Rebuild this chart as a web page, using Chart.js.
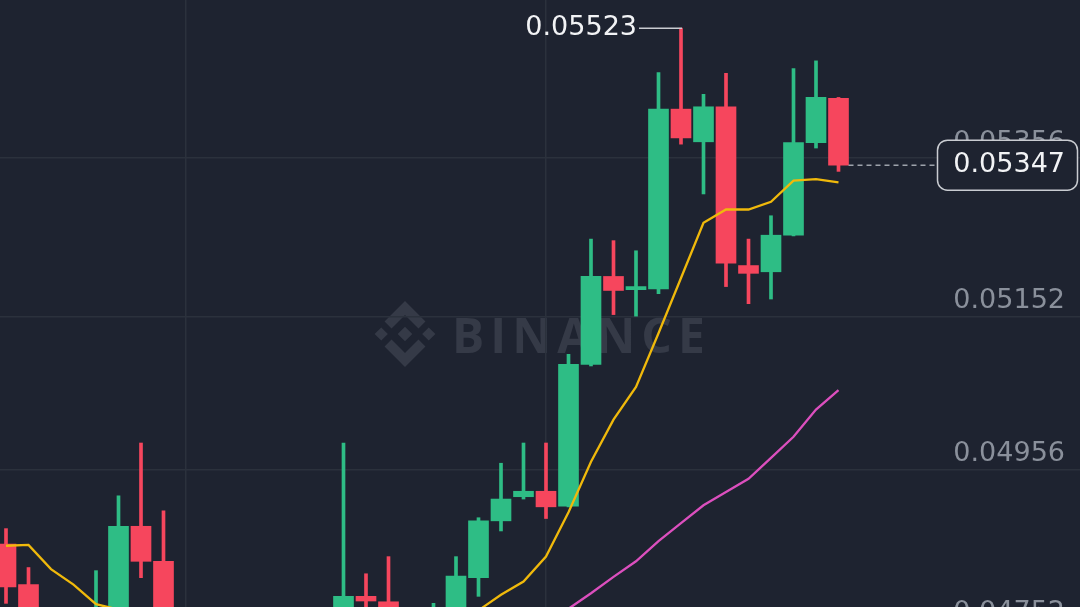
<!DOCTYPE html>
<html>
<head>
<meta charset="utf-8">
<script src="https://cdn.jsdelivr.net/npm/chart.js@4.4.1/dist/chart.umd.min.js"></script>
<style>
html,body{margin:0;padding:0;background:#1e2330;overflow:hidden;width:1080px;height:607px;}
canvas{display:block;}
</style>
</head>
<body>
<canvas id="c" width="1080" height="640"></canvas>
<script>
// ---- data ----
const candles = [0,1,2,3,4,5,6,7,8,9,10,11,12,13,14,15,16,17,18,19,20,21,22,23,24,25,26,27,28,29,30,31,32,33,34,35,36,37];
const open  = [0.04860,0.04808,0.04737,0.04686,0.04673,0.04711,0.04883,0.04838,0.04737,0.04711,0.04660,0.04698,0.04673,0.04705,0.04724,0.04711,0.04793,0.04786,0.04737,0.04724,0.04763,0.04817,0.04890,0.04921,0.04928,0.04909,0.05091,0.05204,0.05187,0.05188,0.05419,0.05377,0.05422,0.05218,0.05210,0.05257,0.05376,0.05433];
const high  = [0.04880,0.04830,0.04769,0.04705,0.04826,0.04922,0.04990,0.04903,0.04769,0.04737,0.04724,0.04718,0.04731,0.04750,0.04763,0.04990,0.04822,0.04844,0.04769,0.04784,0.04844,0.04894,0.04964,0.04990,0.04990,0.05104,0.05252,0.05250,0.05237,0.05466,0.05523,0.05438,0.05465,0.05252,0.05282,0.05471,0.05481,0.05434];
const low   = [0.04784,0.04724,0.04673,0.04647,0.04660,0.04698,0.04817,0.04724,0.04698,0.04660,0.04647,0.04653,0.04660,0.04686,0.04692,0.04705,0.04756,0.04724,0.04711,0.04718,0.04750,0.04793,0.04877,0.04918,0.04893,0.04908,0.05089,0.05155,0.05153,0.05182,0.05374,0.05310,0.05191,0.05169,0.05175,0.05256,0.05369,0.05339];
const close = [0.04805,0.04737,0.04686,0.04660,0.04737,0.04883,0.04838,0.04737,0.04711,0.04673,0.04698,0.04673,0.04705,0.04724,0.04711,0.04793,0.04787,0.04737,0.04724,0.04763,0.04819,0.04890,0.04918,0.04928,0.04908,0.05091,0.05204,0.05186,0.05191,0.05419,0.05382,0.05422,0.05221,0.05208,0.05257,0.05376,0.05434,0.05347];
const ma7   = [0.04858,0.04859,0.04828,0.04808,0.04783,0.04776,0.04765,0.04752,0.04737,0.04724,0.04711,0.04705,0.04701,0.04705,0.04711,0.04724,0.04737,0.04743,0.04750,0.04756,0.04763,0.04775,0.04795,0.04812,0.04844,0.04901,0.04966,0.05020,0.05062,0.05131,0.05202,0.05273,0.05290,0.05290,0.05300,0.05327,0.05329,0.05325];
const ma25  = [0.04737,0.04734,0.04731,0.04727,0.04722,0.04718,0.04715,0.04711,0.04709,0.04706,0.04704,0.04702,0.04701,0.04701,0.04702,0.04705,0.04709,0.04714,0.04719,0.04724,0.04731,0.04737,0.04743,0.04750,0.04759,0.04777,0.04797,0.04818,0.04838,0.04864,0.04887,0.04910,0.04927,0.04944,0.04971,0.04998,0.05033,0.05058];
const tickValues = [0.04752,0.04956,0.05152,0.05356];
const tickLabels = ['0.04752','0.04956','0.05152','0.05356'];
const xGridAt = [8,24];
const highLabel = '0.05523';
const lastLabel = '0.05347';

// ---- styles ----
const BG = '#1e2330', GRID = '#2b313c', GREEN = '#2ebd85', RED = '#f6465d';
const YELLOW = '#f0b90b', PINK = '#dc4fbe', LABEL = '#8a909b';
const FONT = '27px "DejaVu Sans"';

const colorOf = i => close[i] >= open[i] ? GREEN : RED;

function drawLogo(ctx, cx, cy, R) {
  const diamond = (x, y, s) => { ctx.moveTo(x, y - s); ctx.lineTo(x + s, y); ctx.lineTo(x, y + s); ctx.lineTo(x - s, y); ctx.closePath(); };
  ctx.beginPath();
  diamond(cx, cy, R * 0.22);
  diamond(cx - R * 0.72, cy, R * 0.2);
  diamond(cx + R * 0.72, cy, R * 0.2);
  const a = R * 0.62, t = R * 0.3, q = t / Math.SQRT2;
  for (const s of [-1, 1]) {
    ctx.moveTo(cx, cy + s * R);
    ctx.lineTo(cx + a, cy + s * (R - a));
    ctx.lineTo(cx + a - q, cy + s * (R - a - q));
    ctx.lineTo(cx, cy + s * (R - t * Math.SQRT2));
    ctx.lineTo(cx - a + q, cy + s * (R - a - q));
    ctx.lineTo(cx - a, cy + s * (R - a));
    ctx.closePath();
  }
  ctx.fill();
}

const decor = {
  id: 'decor',
  beforeDraw(chart) {
    const ctx = chart.ctx;
    ctx.save();
    ctx.fillStyle = BG;
    ctx.fillRect(0, 0, chart.width, chart.height);
    ctx.fillStyle = '#353a47';
    drawLogo(ctx, 405, 334, 33);
    ctx.font = 'bold 48px "Open Sans"';
    try { ctx.letterSpacing = '6px'; } catch (e) {}
    ctx.textAlign = 'left';
    ctx.textBaseline = 'alphabetic';
    ctx.fillText('BINANCE', 452, 353);
    ctx.restore();
  },
  afterDatasetsDraw(chart) {
    const ctx = chart.ctx, xs = chart.scales.x, ys = chart.scales.y;
    ctx.save();
    try { ctx.letterSpacing = '0px'; } catch (e) {}
    ctx.font = FONT;
    ctx.textAlign = 'right';
    ctx.textBaseline = 'middle';
    ctx.fillStyle = LABEL;
    tickValues.forEach((v, i) => ctx.fillText(tickLabels[i], 1065, ys.getPixelForValue(v) - 15.5));

    // highest price annotation
    let hi = 0;
    high.forEach((v, i) => { if (v > high[hi]) hi = i; });
    const hx = xs.getPixelForValue(candles[hi]), hy = ys.getPixelForValue(high[hi]);
    ctx.strokeStyle = '#c9ccd1';
    ctx.lineWidth = 1.5;
    ctx.beginPath(); ctx.moveTo(hx - 42, hy); ctx.lineTo(hx + 1, hy); ctx.stroke();
    ctx.fillStyle = '#f2f3f5';
    ctx.fillText(highLabel, hx - 44, hy);

    // last price line and box
    const li = candles.length - 1;
    const lx = xs.getPixelForValue(candles[li]) + 10, ly = ys.getPixelForValue(close[li]);
    ctx.strokeStyle = '#9ea3ab';
    ctx.setLineDash([5, 4]);
    ctx.beginPath(); ctx.moveTo(lx, ly); ctx.lineTo(937, ly); ctx.stroke();
    ctx.setLineDash([]);
    ctx.beginPath();
    ctx.roundRect(937.5, ly - 25, 140, 50, 10);
    ctx.fillStyle = BG;
    ctx.fill();
    ctx.strokeStyle = '#c9ccd1';
    ctx.lineWidth = 1.5;
    ctx.stroke();
    ctx.fillStyle = '#f2f3f5';
    ctx.fillText(lastLabel, 1065, ly);
    ctx.restore();
  }
};

new Chart(document.getElementById('c'), {
  type: 'bar',
  data: {
    datasets: [
      { type: 'line', data: candles.map(i => ({ x: i, y: ma7[i] })), borderColor: YELLOW, borderWidth: 2.3, pointRadius: 0, fill: false, tension: 0, order: 0 },
      { type: 'line', data: candles.map(i => ({ x: i, y: ma25[i] })), borderColor: PINK, borderWidth: 2.3, pointRadius: 0, fill: false, tension: 0, order: 0 },
      { data: candles.map(i => ({ x: i, y: [low[i], high[i]] })), backgroundColor: candles.map(colorOf), barThickness: 3, grouped: false, borderWidth: 0, order: 2 },
      { data: candles.map(i => ({ x: i, y: [open[i], close[i]] })), backgroundColor: candles.map(colorOf), barThickness: 20, grouped: false, borderWidth: 0, minBarLength: 2, order: 1 }
    ]
  },
  options: {
    responsive: false,
    animation: false,
    events: [],
    layout: { padding: 0 },
    plugins: { legend: { display: false }, tooltip: { enabled: false } },
    scales: {
      x: {
        type: 'linear', min: -6 / 22.5, max: -6 / 22.5 + 48, offset: false,
        afterBuildTicks: s => { s.ticks = xGridAt.map(v => ({ value: v })); },
        ticks: { display: false },
        grid: { color: GRID, lineWidth: 1.5, drawTicks: false, offset: false },
        border: { display: false }
      },
      y: {
        type: 'linear', position: 'right', min: 0.047369, max: 0.055592,
        afterBuildTicks: s => { s.ticks = tickValues.map(v => ({ value: v })); },
        ticks: { display: false },
        grid: { color: GRID, lineWidth: 1.5, drawTicks: false },
        border: { display: false }
      }
    }
  },
  plugins: [decor]
});
</script>
</body>
</html>
